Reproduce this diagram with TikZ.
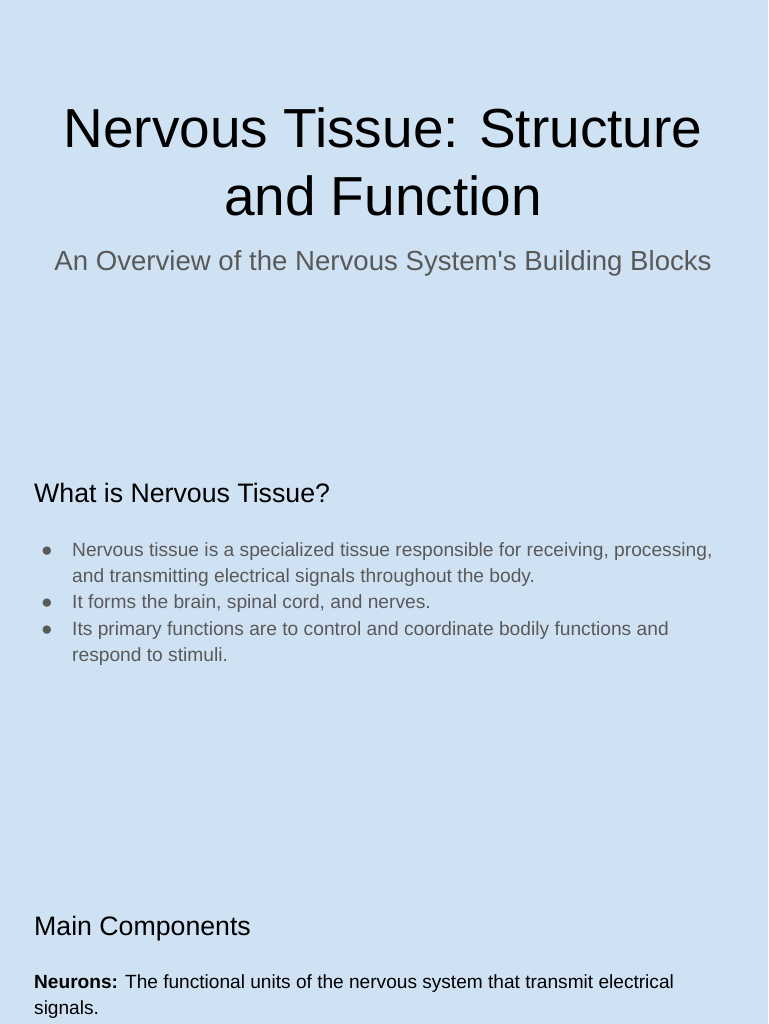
\documentclass[tikz,border=0pt]{standalone}
\usepackage{fontspec}
\setmainfont{Liberation Sans}
\definecolor{bg}{HTML}{CFE2F3}
\definecolor{gr}{HTML}{595959}
\begin{document}
\begin{tikzpicture}[x=1pt,y=-1pt,
  title/.style={font=\fontsize{55}{60}\selectfont,anchor=base},
  sub/.style={font=\fontsize{27.6}{30}\selectfont,text=gr,anchor=base},
  head/.style={font=\fontsize{26.7}{30}\selectfont,anchor=base west,inner sep=0},
  body/.style={font=\fontsize{19.2}{22}\selectfont,text=gr,anchor=base west,inner sep=0},
  dark/.style={font=\fontsize{19.1}{22}\selectfont,anchor=base west,inner sep=0}]
\fill[bg] (0,0) rectangle (768,1024);
\useasboundingbox (0,0) rectangle (768,1024);
\node[title] (t1) at (383,148) {Nervous Tissue: Structure};
\node[title] (t2) at (383,215) {and Function};
\node[sub] (s) at (383,270) {An Overview of the Nervous System\textquotesingle s Building Blocks};
\node[head] (h1) at (34,502) {What is Nervous Tissue?};
\foreach \y in {556,608,635}{\node[body] at (41,\y) {●};}
\node[body] (b1) at (72,556) {Nervous tissue is a specialized tissue responsible for receiving, processing,};
\node[body] (b1b) at (72,582) {and transmitting electrical signals throughout the body.};
\node[body] (b2) at (72,608) {It forms the brain, spinal cord, and nerves.};
\node[body] (b3) at (72,635) {Its primary functions are to control and coordinate bodily functions and};
\node[body] (b3b) at (72,661) {respond to stimuli.};
\node[head] (h2) at (34,935) {Main Components};
\node[dark] (n1) at (34,988) {\textbf{Neurons:} The functional units of the nervous system that transmit electrical};
\node[dark] (n2) at (34,1014) {signals.};
\end{tikzpicture}
\end{document}
